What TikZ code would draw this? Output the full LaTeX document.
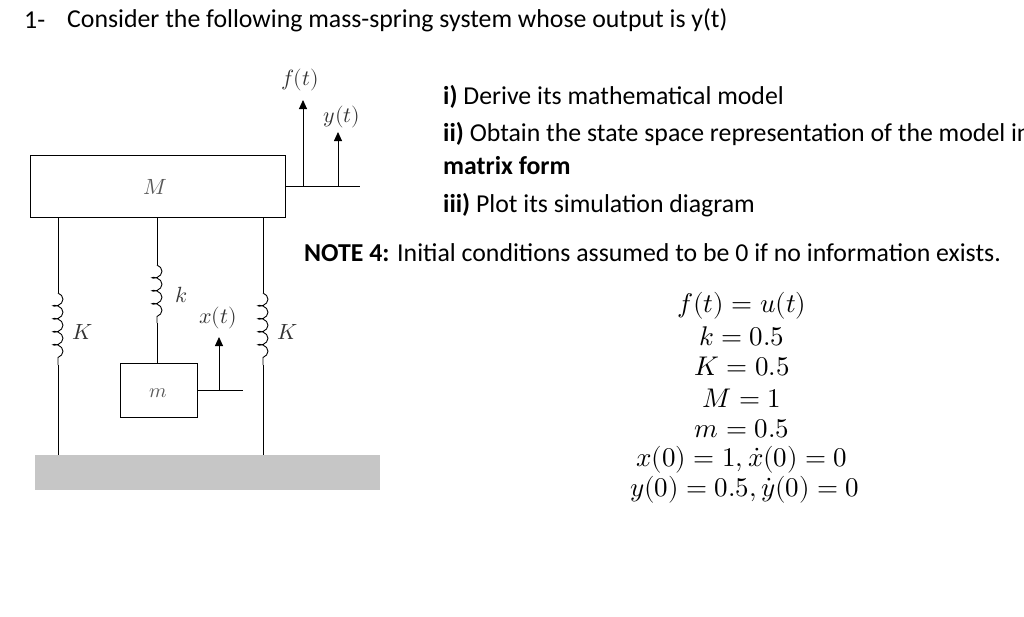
\documentclass[tikz,border=0pt]{standalone}
\usepackage{unicode-math}
\setmainfont{Carlito}
\setmathfont{Latin Modern Math}
\usetikzlibrary{decorations.pathmorphing,arrows.meta}
\begin{document}
\begin{tikzpicture}[x=1pt,y=-1pt,
  ln/.style={line width=0.9pt},
  spr/.style={ln,decorate,decoration={coil,aspect=0.6,amplitude=5pt,segment length=13pt,pre length=0pt,post length=0pt}},
  arr/.style={ln,-{Triangle[length=9pt,width=8pt]}},
  lab/.style={font=\fontsize{22}{22}\selectfont,text=black!80},
  txt/.style={anchor=west,font=\fontsize{25.8}{27}\selectfont,inner sep=0pt},
  eq/.style={font=\fontsize{27}{28}\selectfont,inner sep=0pt}]
\clip (0,0) rectangle (1024,616);
\fill[white] (0,0) rectangle (1024,616);
% title
\node[txt] (num) at (24,20) {1-};
\node[txt] (title) at (67,20) {Consider the following mass-spring system whose output is y(t)};
% ground
\fill[gray!45] (35,455) rectangle (380,490);
% M
\node[draw,ln,minimum width=255pt,minimum height=62pt,inner sep=0pt] (M) at (157.5,186) {};
\node[font=\fontsize{22}{22}\selectfont,text=gray!70!black] (Mlab) at (155,187) {$M$};
\coordinate (Mr) at (360,186);
\draw[ln] (M.east |- 0,186) -- (Mr);
\coordinate (fb) at (303,186); \coordinate (ft) at (303,100);
\coordinate (yb) at (338,186); \coordinate (yt) at (338,132);
\draw[arr] (fb) -- (ft);
\draw[arr] (yb) -- (yt);
\node[lab] (flab) at (300,80) {$f(t)$};
\node[lab] (ylab) at (342,117) {$y(t)$};
% left spring
\coordinate (l1) at (58,217); \coordinate (l2) at (58,293); \coordinate (l3) at (58,365); \coordinate (l4) at (58,455);
\draw[ln] (l1) -- (l2); \draw[spr] (l2) -- (l3); \draw[ln] (l3) -- (l4);
\node[lab] (K1) at (83,332) {$K$};
% right spring
\coordinate (r1) at (263,217); \coordinate (r2) at (263,293); \coordinate (r3) at (263,365); \coordinate (r4) at (263,455);
\draw[ln] (r1) -- (r2); \draw[spr] (r2) -- (r3); \draw[ln] (r3) -- (r4);
\node[lab] (K2) at (288,332) {$K$};
% m
\node[draw,ln,minimum width=77pt,minimum height=54pt,inner sep=0pt] (m) at (158.5,390) {};
\node[font=\fontsize{20}{20}\selectfont,text=gray!70!black] (mlab) at (158,393) {$m$};
\coordinate (c1) at (157,217); \coordinate (c2) at (157,265); \coordinate (c3) at (157,323);
\draw[ln] (c1) -- (c2); \draw[spr] (c2) -- (c3); \draw[ln] (c3) -- (m.north -| c3);
\node[lab] (klab) at (181,295) {$k$};
\coordinate (mr) at (243,390); \coordinate (xb) at (219,390); \coordinate (xt) at (219,337);
\draw[ln] (m.east) -- (mr);
\draw[arr] (xb) -- (xt);
\node[lab] (xlab) at (218,318) {$x(t)$};
% right text
\node[txt] (t1) at (443,97) {\textbf{i)} Derive its mathematical model};
\node[txt] (t2) at (443,134) {\textbf{ii)} Obtain the state space representation of the model in};
\node[txt] (t3) at (443,166) {\textbf{matrix form}};
\node[txt] (t4) at (443,205) {\textbf{iii)} Plot its simulation diagram};
\node[txt] (t5) at (304,253) {\textbf{NOTE 4:} Initial conditions assumed to be 0 if no information exists.};
% equations
\node[eq] (e1) at (742,306) {$f(t)=u(t)$};
\node[eq] (e2) at (742,336) {$k=0.5$};
\node[eq] (e3) at (742,367) {$K=0.5$};
\node[eq] (e4) at (742,398) {$M=1$};
\node[eq] (e5) at (742,429) {$m=0.5$};
\node[eq] (e6) at (742,460) {$x(0)=1,\dot{x}(0)=0$};
\node[eq] (e7) at (745,490) {$y(0)=0.5,\dot{y}(0)=0$};
\end{tikzpicture}
\end{document}
